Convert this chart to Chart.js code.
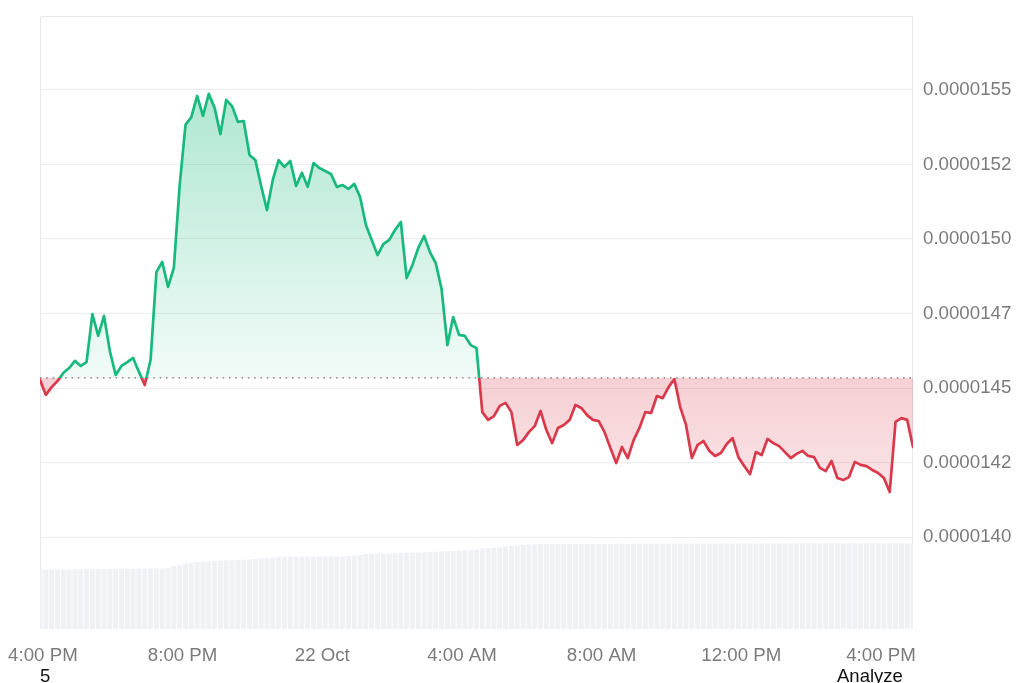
<!DOCTYPE html>
<html>
<head>
<meta charset="utf-8">
<script src="https://cdn.jsdelivr.net/npm/chart.js@4.4.0/dist/chart.umd.min.js"></script>
<style>
html,body{margin:0;padding:0;background:#fff;overflow:hidden;width:1024px;height:683px;}
#wrap{position:relative;width:1024px;height:683px;overflow:hidden;}
canvas{display:block;}
.note{position:absolute;font-family:"Liberation Sans",Arial,sans-serif;font-size:18.5px;line-height:18px;color:#111;white-space:nowrap;}
</style>
</head>
<body>
<div id="wrap">
<canvas id="c" width="1024" height="683"></canvas>
<div class="note" style="left:40px;top:667px">5</div>
<div class="note" style="left:837px;top:667px">Analyze</div>
</div>
<script>
// ---- data ----
const START_MIN = -5;   // minutes relative to 4:00 PM (21 Oct)
const STEP_MIN = 10;    // sampling interval, minutes

const prices = [
1.4527e-5,1.4477e-5,1.4503e-5,1.4523e-5,1.4550e-5,1.4567e-5,1.4591e-5,1.4574e-5,1.4587e-5,1.4748e-5,
1.4675e-5,1.4742e-5,1.4624e-5,1.4544e-5,1.4574e-5,1.4587e-5,1.4601e-5,1.4554e-5,1.4510e-5,1.4594e-5,
1.4889e-5,1.4923e-5,1.4839e-5,1.4903e-5,1.5181e-5,1.5383e-5,1.5409e-5,1.5480e-5,1.5413e-5,1.5487e-5,
1.5440e-5,1.5352e-5,1.5467e-5,1.5446e-5,1.5393e-5,1.5396e-5,1.5282e-5,1.5265e-5,1.5178e-5,1.5097e-5,
1.5198e-5,1.5265e-5,1.5242e-5,1.5262e-5,1.5178e-5,1.5222e-5,1.5175e-5,1.5255e-5,1.5238e-5,1.5228e-5,
1.5218e-5,1.5175e-5,1.5181e-5,1.5168e-5,1.5185e-5,1.5141e-5,1.5047e-5,1.4997e-5,1.4946e-5,1.4983e-5,
1.4997e-5,1.5030e-5,1.5057e-5,1.4869e-5,1.4913e-5,1.4970e-5,1.5010e-5,1.4956e-5,1.4919e-5,1.4832e-5,
1.4644e-5,1.4738e-5,1.4678e-5,1.4675e-5,1.4644e-5,1.4634e-5,1.4419e-5,1.4393e-5,1.4406e-5,1.4440e-5,
1.4450e-5,1.4419e-5,1.4309e-5,1.4325e-5,1.4352e-5,1.4372e-5,1.4423e-5,1.4359e-5,1.4315e-5,1.4366e-5,
1.4376e-5,1.4393e-5,1.4443e-5,1.4433e-5,1.4409e-5,1.4393e-5,1.4389e-5,1.4352e-5,1.4299e-5,1.4248e-5,
1.4302e-5,1.4265e-5,1.4325e-5,1.4366e-5,1.4419e-5,1.4416e-5,1.4473e-5,1.4466e-5,1.4503e-5,1.4530e-5,
1.4436e-5,1.4376e-5,1.4265e-5,1.4309e-5,1.4322e-5,1.4289e-5,1.4272e-5,1.4282e-5,1.4312e-5,1.4332e-5,
1.4268e-5,1.4238e-5,1.4211e-5,1.4285e-5,1.4275e-5,1.4329e-5,1.4315e-5,1.4305e-5,1.4285e-5,1.4265e-5,
1.4279e-5,1.4289e-5,1.4272e-5,1.4268e-5,1.4232e-5,1.4221e-5,1.4255e-5,1.4198e-5,1.4191e-5,1.4201e-5,
1.4252e-5,1.4242e-5,1.4238e-5,1.4225e-5,1.4215e-5,1.4198e-5,1.4151e-5,1.4386e-5,1.4399e-5,1.4393e-5,
1.4302e-5
];

const volumes = [
5.95,5.95,5.95,5.96,5.97,5.97,5.98,5.98,5.99,6.00,6.00,6.00,6.00,6.01,6.01,6.02,6.02,6.03,6.03,6.04,6.05,6.06,
6.10,6.30,6.40,6.55,6.60,6.70,6.75,6.78,6.80,6.82,6.85,6.87,6.90,6.92,6.95,7.00,7.05,7.10,7.15,
7.20,7.20,7.22,7.22,7.22,7.23,7.23,
7.24,7.25,7.25,7.26,7.27,7.30,7.35,
7.40,7.50,
7.52,7.53,7.54,7.55,7.57,7.60,
7.62,7.64,7.66,7.68,7.70,7.72,
7.75,7.78,7.82,7.85,7.88,7.90,7.95,
8.05,8.10,8.15,8.20,8.25,8.30,8.35,8.40,8.45,8.48,
8.49,8.49,8.50,8.50,8.50,8.51,8.51,8.51,8.51,8.52,
8.52,8.52,8.52,8.53,8.53,8.53,8.53,8.53,8.54,8.54,
8.54,8.54,8.54,8.54,8.55,8.55,8.55,8.55,8.55,8.55,
8.55,8.55,8.56,8.56,8.56,8.56,8.56,8.56,8.56,8.56,
8.56,8.56,8.56,8.56,8.57,8.57,8.57,8.57,8.57,8.57,
8.57,8.57,8.57,8.57,8.57,8.57,8.57,8.57,8.57,8.57,
8.57,8.57,8.57,8.57,8.57
];

const referencePrice = 1.4534e-5;

const xTickValues = [0, 240, 480, 720, 960, 1200, 1440];
const xTickLabels = ['4:00 PM', '8:00 PM', '22 Oct', '4:00 AM', '8:00 AM', '12:00 PM', '4:00 PM'];
const yTickValues = [1.400e-5, 1.425e-5, 1.450e-5, 1.475e-5, 1.500e-5, 1.525e-5, 1.550e-5];
const yTickLabels = ['0.0000140', '0.0000142', '0.0000145', '0.0000147', '0.0000150', '0.0000152', '0.0000155'];

// ---- axis ranges / styles ----
const X_MIN = -5, X_MAX = 1495;
const Y_MIN = 1.36913e-5, Y_MAX = 1.57483e-5;
const VOL_MAX = 61.3;

const GREEN = '#17b97d';
const RED = '#d9394a';
const TICK_COLOR = '#7b7b7b';
const FONT = {family: '"Liberation Sans", Arial, sans-serif', size: 18.7};

const times = prices.map((_, i) => START_MIN + i * STEP_MIN);
const pricePts = times.map((t, i) => ({x: t, y: prices[i]}));
const volPts = times.map((t, i) => ({x: t, y: volumes[i]}));
const basePts = [{x: X_MIN, y: referencePrice}, {x: X_MAX, y: referencePrice}];

function noPad(s) {
  s.paddingLeft = 0; s.paddingRight = 0; s.paddingTop = 0; s.paddingBottom = 0;
}

const framePlugin = {
  id: 'frame',
  beforeDatasetsDraw(chart) {
    const {ctx, chartArea: a} = chart;
    ctx.save();
    ctx.strokeStyle = '#e8e8e8';
    ctx.lineWidth = 1;
    ctx.beginPath();
    ctx.moveTo(a.left + 0.5, a.bottom);
    ctx.lineTo(a.left + 0.5, a.top + 0.5);
    ctx.lineTo(a.right - 0.5, a.top + 0.5);
    ctx.lineTo(a.right - 0.5, a.bottom);
    ctx.stroke();
    ctx.restore();
  }
};

const chart = new Chart(document.getElementById('c'), {
  data: {
    datasets: [
      {
        type: 'line',
        data: pricePts,
        yAxisID: 'y',
        borderColor: GREEN,
        borderWidth: 2.7,
        borderJoinStyle: 'round',
        borderCapStyle: 'round',
        pointRadius: 0,
        tension: 0,
        fill: {target: {value: referencePrice}, above: 'rgba(23,185,125,0.2)', below: 'rgba(217,57,74,0.15)'},
        order: 0
      },
      {
        type: 'line',
        data: basePts,
        yAxisID: 'y',
        borderColor: '#6f6f6f',
        borderWidth: 1.4,
        borderDash: [1.5, 4.8],
        pointRadius: 0,
        fill: false,
        order: 1
      },
      {
        type: 'bar',
        data: volPts,
        yAxisID: 'yv',
        backgroundColor: '#eff1f4',
        barPercentage: 0.85,
        categoryPercentage: 1,
        order: 2
      }
    ]
  },
  options: {
    responsive: false,
    devicePixelRatio: 1,
    animation: false,
    layout: {padding: {left: 40, top: 16, right: 0, bottom: 0}},
    plugins: {legend: {display: false}, tooltip: {enabled: false}},
    scales: {
      x: {
        type: 'linear',
        min: X_MIN,
        max: X_MAX,
        offset: false,
        grid: {display: false, drawTicks: false},
        border: {display: false},
        afterBuildTicks: s => { s.ticks = xTickValues.map(v => ({value: v})); },
        afterFit: s => { s.height = 54; noPad(s); },
        ticks: {
          autoSkip: false,
          maxRotation: 0,
          padding: 16,
          color: TICK_COLOR,
          font: FONT,
          callback: (v, i) => xTickLabels[i]
        }
      },
      y: {
        type: 'linear',
        position: 'right',
        min: Y_MIN,
        max: Y_MAX,
        grid: {color: '#ececec', lineWidth: 1, drawTicks: false},
        border: {display: false},
        afterBuildTicks: s => { s.ticks = yTickValues.map(v => ({value: v})); },
        afterFit: s => { s.width = 111; noPad(s); },
        ticks: {
          padding: 10,
          color: TICK_COLOR,
          font: FONT,
          callback: (v, i) => yTickLabels[i]
        }
      },
      yv: {
        type: 'linear',
        display: false,
        min: 0,
        max: VOL_MAX
      }
    }
  },
  plugins: [framePlugin]
});

(function applyGradients() {
  const {ctx, chartArea: a, scales} = chart;
  const yb = scales.y.getPixelForValue(referencePrice);
  const stop = Math.min(1, Math.max(0, (yb - a.top) / (a.bottom - a.top)));
  const lg = ctx.createLinearGradient(0, a.top, 0, a.bottom);
  lg.addColorStop(0, GREEN); lg.addColorStop(stop, GREEN);
  lg.addColorStop(stop, RED); lg.addColorStop(1, RED);
  const ga = ctx.createLinearGradient(0, a.top, 0, yb);
  ga.addColorStop(0, 'rgba(23,185,125,0.42)');
  ga.addColorStop(1, 'rgba(23,185,125,0.06)');
  const gb = ctx.createLinearGradient(0, yb, 0, a.bottom);
  gb.addColorStop(0, 'rgba(217,57,74,0.24)');
  gb.addColorStop(0.5, 'rgba(217,57,74,0.12)');
  gb.addColorStop(1, 'rgba(217,57,74,0.04)');
  const ds = chart.data.datasets[0];
  ds.borderColor = lg;
  ds.fill = {target: {value: referencePrice}, above: ga, below: gb};
  chart.update('none');
})();
</script>
</body>
</html>
